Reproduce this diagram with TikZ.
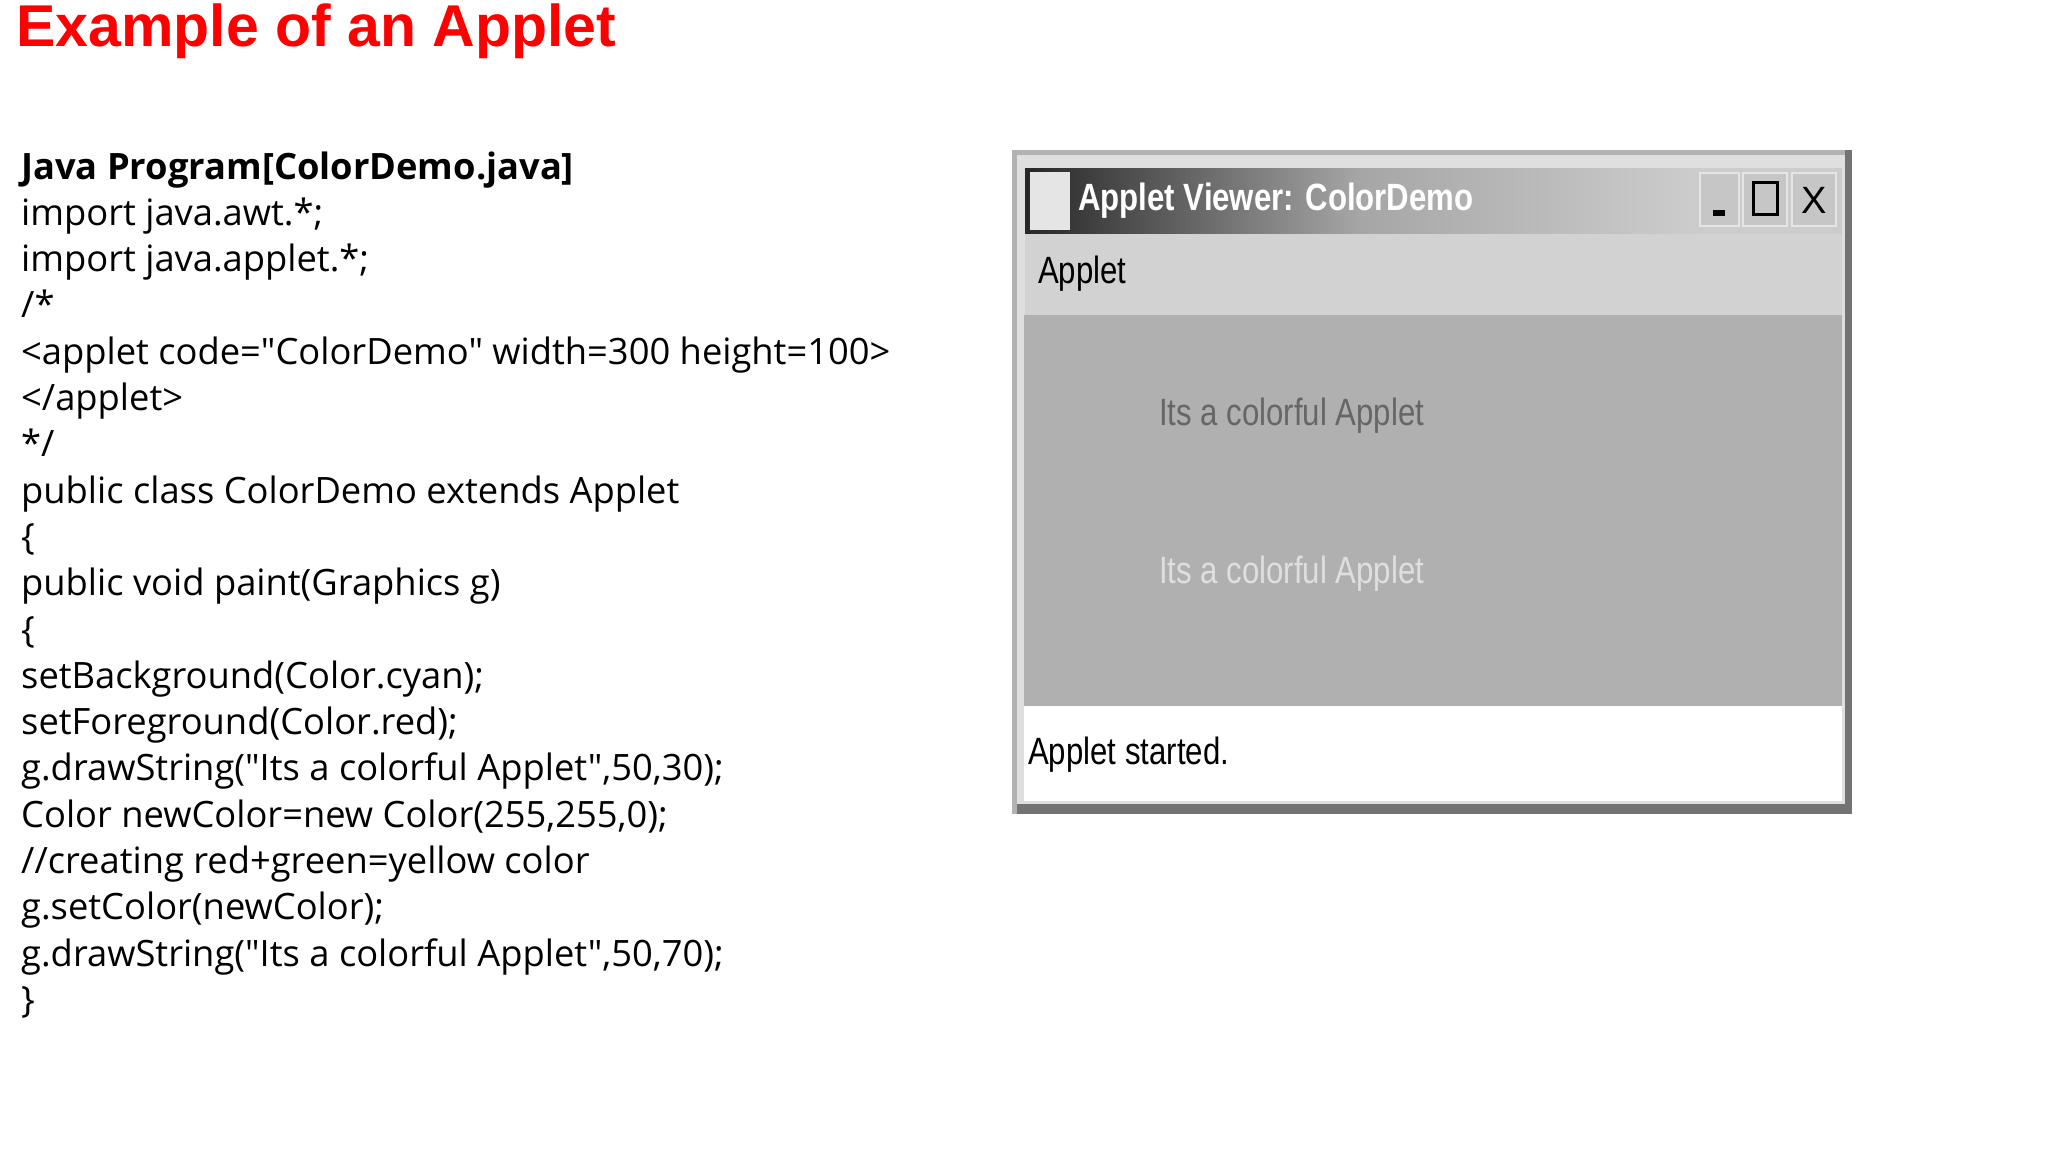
\documentclass[tikz,border=0pt]{standalone}
\usepackage{fontspec}
\setmainfont{Open Sans}[Ligatures=TeXOff]
\newfontfamily\arialf{Liberation Sans}
\begin{document}
\begin{tikzpicture}[x=1pt,y=-1pt,
  codeline/.style={anchor=base west,inner sep=0pt,font=\fontsize{36.3}{42}\selectfont},
  wintext/.style={anchor=west,inner sep=0pt,xscale=0.82,font=\arialf\fontsize{38}{44}\selectfont}]
\useasboundingbox[fill=white] (0,0) rectangle (2048,1152);
\node[anchor=base west,inner sep=0pt,text=red,font=\arialf\bfseries\fontsize{59}{63}\selectfont] (title) at (16,46) {Example of an Applet};
\foreach \t [count=\i] in {
 {\bfseries Java Program[ColorDemo.java]},
 {import java.awt.*;},
 {import java.applet.*;},
 {/*},
 {<applet code="ColorDemo" width=300 height=100>},
 {</applet>},
 {*/},
 {public class ColorDemo extends Applet},
 {\{},
 {public void paint(Graphics g)},
 {\{},
 {setBackground(Color.cyan);},
 {setForeground(Color.red);},
 {g.drawString("Its a colorful Applet",50,30);},
 {Color newColor=new Color(255,255,0);},
 {//creating red+green=yellow color},
 {g.setColor(newColor);},
 {g.drawString("Its a colorful Applet",50,70);},
 {\}}}
 \node[codeline] (c\i) at (21,{179+46.3*(\i-1)}) {\t};
\begin{scope}[xshift=-7pt]
\fill[gray!60] (1019,150) rectangle (1859,814);
\fill[gray!90!black] (1024,804) rectangle (1859,814);
\fill[gray!90!black] (1852,150) rectangle (1859,814);
\fill[gray!25] (1024,155) rectangle (1852,804);
\shade[left color=black!85,right color=gray!40,middle color=gray!70] (1032,168) rectangle (1700,234);
\fill[gray!40] (1700,168) rectangle (1849,234);
\fill[gray!20] (1037,172) rectangle (1077,230);
\node[wintext,text=white,font=\arialf\bfseries\fontsize{38}{44}\selectfont] (wt) at (1085,201) {Applet Viewer: ColorDemo};
\foreach \a/\b/\n in {1707/1746/b1,1750/1794/b2,1799/1843/b3}
  \draw[gray!20,line width=2pt,fill=gray!45] (\a,173) rectangle (\b,226) coordinate (\n);
\fill[black] (1720,210) rectangle (1732,216);
\draw[black,line width=3pt] (1760,182) rectangle (1784,214);
\node[font=\arialf\fontsize{38}{44}\selectfont,inner sep=0pt] (xx) at (1821,200) {X};
\fill[gray!35] (1032,234) rectangle (1849,315);
\node[wintext] (menu) at (1045,274) {Applet};
\fill[gray!62] (1031,315) rectangle (1849,706);
\node[wintext,text=black!60] (s1) at (1166,416) {Its a colorful Applet};
\node[wintext,text=gray!25] (s2) at (1166,574) {Its a colorful Applet};
\fill[white] (1031,706) rectangle (1849,801);
\node[wintext] (st) at (1035,755) {Applet started.};
\end{scope}
\end{tikzpicture}
\end{document}
